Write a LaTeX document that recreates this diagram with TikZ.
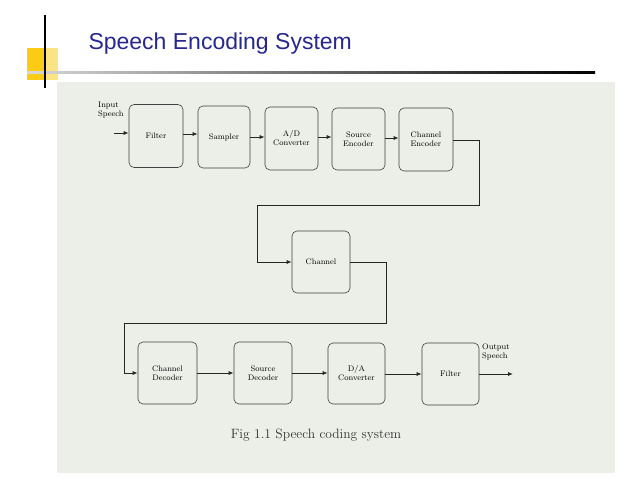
\documentclass[tikz,border=0pt]{standalone}
\usepackage{fontspec}
\newfontfamily\sansf{Liberation Sans}
\usetikzlibrary{arrows.meta}
\definecolor{navy}{RGB}{40,40,140}
\definecolor{gold}{RGB}{250,205,20}
\definecolor{lgold}{RGB}{252,228,130}
\definecolor{photo}{RGB}{236,238,232}
\begin{document}
\begin{tikzpicture}[x=1pt,y=-1pt,
 blk/.style={draw=black!75,rounded corners=5pt,line width=0.6pt,align=center,font=\fontsize{8}{9}\selectfont,inner sep=0pt},
 arr/.style={-{Latex[length=5pt,width=4pt]},line width=0.8pt,black!85},
 ln/.style={line width=0.8pt,black!85}]
\useasboundingbox (0,0) rectangle (638,479);
\fill[white] (0,0) rectangle (638,479);
% slide decoration
\fill[gold] (27,48) rectangle (45,80);
\fill[lgold] (45,48) rectangle (58,80);
\shade[left color=black!15,right color=black] (27,71) rectangle (595,73.5);
\draw[line width=1.2pt] (45,15) -- (45,88);
\node[anchor=west,text=navy,font=\sansf\fontsize{23}{27}\selectfont] (title) at (85,44) {Speech Encoding System};
% photo
\fill[photo] (57,82) rectangle (615,473);
% top row
\node[blk,minimum width=54pt,minimum height=63pt] (f1) at (156,136) {Filter};
\node[blk,minimum width=52pt,minimum height=62pt] (sa) at (224,137) {Sampler};
\node[blk,minimum width=53pt,minimum height=63pt] (ad) at (291.5,138.5) {A/D\\Converter};
\node[blk,minimum width=53pt,minimum height=62pt] (se) at (358.5,139) {Source\\Encoder};
\node[blk,minimum width=54pt,minimum height=63pt] (ce) at (426,139.5) {Channel\\Encoder};
\node[blk,minimum width=58pt,minimum height=62pt] (ch) at (321,262) {Channel};
\node[blk,minimum width=59pt,minimum height=62pt] (cd) at (167.5,373) {Channel\\Decoder};
\node[blk,minimum width=58pt,minimum height=62pt] (sd) at (263,373) {Source\\Decoder};
\node[blk,minimum width=57pt,minimum height=61pt] (da) at (356.5,373.5) {D/A\\Converter};
\node[blk,minimum width=57pt,minimum height=62pt] (f2) at (450.5,374) {Filter};
\node[align=left,font=\fontsize{8}{9}\selectfont,inner sep=0pt,anchor=north west] (in) at (98,102) {Input\\Speech};
\node[align=left,font=\fontsize{8}{9}\selectfont,inner sep=0pt,anchor=north west] (out) at (482,344) {Output\\Speech};
\coordinate (ia) at (114,133);
\coordinate (oa) at (513,374);
\draw[arr] (ia) -- (ia -| f1.west);
\draw[arr] (f1.east |- 134,134) -- (sa.west |- 134,134);
\draw[arr] (sa) -- (ad.west |- sa);
\draw[arr] (ad.east |- 137,137) -- (se.west |- 137,137);
\draw[arr] (se.east |- 138,138) -- (ce.west |- 138,138);
\draw[ln] (ce.east |- 140,140) -- (479,140) -- (479,205) -- (257,205) -- (257,262);
\draw[arr] (257,262) -- (ch.west);
\draw[ln] (ch.east) -- (386,262) -- (386,323) -- (124,323) -- (124,373);
\draw[arr] (124,373) -- (cd.west);
\draw[arr] (cd) -- (sd);
\draw[arr] (sd) -- (da.west |- sd);
\draw[arr] (da.east |- 374,374) -- (f2.west |- 374,374);
\draw[arr] (f2.east) -- (oa);
\node[font=\fontsize{13.5}{16}\selectfont,text=black!80] (cap) at (316,435) {Fig 1.1 Speech coding system};
\end{tikzpicture}
\end{document}
